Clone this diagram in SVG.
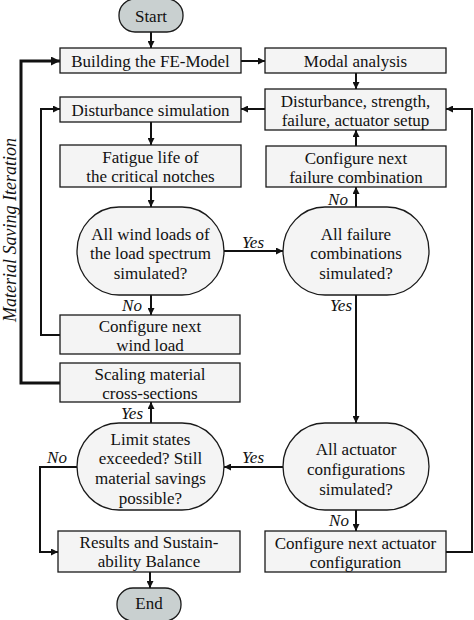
<svg xmlns="http://www.w3.org/2000/svg" width="474" height="620" viewBox="0 0 474 620">
<style>
.box{fill:#f4f4f4;stroke:#1a1a1a;stroke-width:1.3}
.dec{fill:#f4f4f4;stroke:#1a1a1a;stroke-width:1.3}
.term{fill:#c9d0d0;stroke:#1a1a1a;stroke-width:1.3}
.t{font-family:"Liberation Serif","Times New Roman",serif;font-size:17px;fill:#111;text-anchor:middle}
.lbl{font-family:"Liberation Serif","Times New Roman",serif;font-size:17px;font-style:italic;fill:#111;text-anchor:middle}
.c{fill:none;stroke:#111;stroke-width:2}
.thick{fill:none;stroke:#111;stroke-width:3}
</style>
<defs>
<marker id="ah" viewBox="0 0 10 10" refX="10" refY="5" markerWidth="9" markerHeight="7" markerUnits="userSpaceOnUse" orient="auto">
<path d="M0,0 L10,5 L0,10 z" fill="#111"/>
</marker>
<marker id="ahb" viewBox="0 0 10 10" refX="10" refY="5" markerWidth="12" markerHeight="9" markerUnits="userSpaceOnUse" orient="auto">
<path d="M0,0 L10,5 L0,10 z" fill="#111"/>
</marker>
</defs>

<g id="connectors">
<line class="c" x1="151" y1="32" x2="151" y2="48" marker-end="url(#ah)"/>
<line class="c" x1="241" y1="61" x2="265" y2="61" marker-end="url(#ah)"/>
<line class="c" x1="356" y1="73" x2="356" y2="89" marker-end="url(#ah)"/>
<line class="c" x1="265" y1="109" x2="241" y2="109" marker-end="url(#ah)"/>
<line class="c" x1="151" y1="122" x2="151" y2="145" marker-end="url(#ah)"/>
<line class="c" x1="151" y1="187" x2="151" y2="207" marker-end="url(#ah)"/>
<line class="c" x1="224" y1="251" x2="283" y2="251" marker-end="url(#ah)"/>
<line class="c" x1="356" y1="207" x2="356" y2="187" marker-end="url(#ah)"/>
<line class="c" x1="356" y1="146" x2="356" y2="130" marker-end="url(#ah)"/>
<line class="c" x1="151" y1="295" x2="151" y2="315" marker-end="url(#ah)"/>
<path class="c" d="M60,335 H41 V109 H60" marker-end="url(#ah)"/>
<line class="c" x1="356" y1="295" x2="356" y2="423" marker-end="url(#ah)"/>
<line class="c" x1="283" y1="467" x2="224" y2="467" marker-end="url(#ah)"/>
<line class="c" x1="151" y1="423" x2="151" y2="402" marker-end="url(#ah)"/>
<path class="thick" d="M60,383 H21 V61 H60" marker-end="url(#ahb)"/>
<path class="c" d="M77,467 H40 V552 H58" marker-end="url(#ah)"/>
<line class="c" x1="356" y1="510" x2="356" y2="531" marker-end="url(#ah)"/>
<path class="c" d="M446,552 H472 V109 H446" marker-end="url(#ah)"/>
<line class="c" x1="150" y1="572" x2="150" y2="588" marker-end="url(#ah)"/>
<text class="lbl" x="253" y="248">Yes</text>
<text class="lbl" x="338" y="205">No</text>
<text class="lbl" x="341" y="311">Yes</text>
<text class="lbl" x="132" y="311">No</text>
<text class="lbl" x="253" y="463">Yes</text>
<text class="lbl" x="132" y="419">Yes</text>
<text class="lbl" x="57" y="463">No</text>
<text class="lbl" x="339" y="526">No</text>
<text class="lbl" x="0" y="0" transform="translate(15.5,230) rotate(-90)" style="font-size:18px">Material Saving Iteration</text>
</g>

<g id="start"><rect class="term" x="119" y="-1" width="64" height="33" rx="16"/><text class="t" x="151" y="22">Start</text></g>
<g id="building"><rect class="box" x="60" y="48" width="181" height="25"/><text class="t" x="150.5" y="66.5">Building the FE-Model</text></g>
<g id="modal"><rect class="box" x="265" y="48" width="181" height="25"/><text class="t" x="355.5" y="66.5">Modal analysis</text></g>
<g id="setup"><rect class="box" x="265" y="89" width="181" height="41"/><text class="t" x="355.5" y="106.5">Disturbance, strength,</text><text class="t" x="355.5" y="125.5">failure, actuator setup</text></g>
<g id="dissim"><rect class="box" x="60" y="97" width="181" height="25"/><text class="t" x="150.5" y="115.5">Disturbance simulation</text></g>
<g id="fatigue"><rect class="box" x="60" y="145" width="181" height="42"/><text class="t" x="150.5" y="162.5">Fatigue life of</text><text class="t" x="150.5" y="181.5">the critical notches</text></g>
<g id="cfgfail"><rect class="box" x="266" y="146" width="180" height="41"/><text class="t" x="356" y="163.5">Configure next</text><text class="t" x="356" y="182.5">failure combination</text></g>
<g id="d1"><rect class="dec" x="77" y="207" width="147" height="88" rx="42" ry="44"/><text class="t" x="150.5" y="239.5">All wind loads of</text><text class="t" x="150.5" y="259">the load spectrum</text><text class="t" x="150.5" y="278.5">simulated?</text></g>
<g id="d2"><rect class="dec" x="283" y="207" width="146" height="88" rx="42" ry="44"/><text class="t" x="356" y="239.5">All failure</text><text class="t" x="356" y="259">combinations</text><text class="t" x="356" y="278.5">simulated?</text></g>
<g id="cfgwind"><rect class="box" x="60" y="315" width="180" height="39"/><text class="t" x="150" y="331.5">Configure next</text><text class="t" x="150" y="350.5">wind load</text></g>
<g id="scaling"><rect class="box" x="60" y="363" width="180" height="39"/><text class="t" x="150" y="379.5">Scaling material</text><text class="t" x="150" y="398.5">cross-sections</text></g>
<g id="d4"><rect class="dec" x="77" y="423" width="147" height="87" rx="42" ry="43.5"/><text class="t" x="150.5" y="444.5">Limit states</text><text class="t" x="150.5" y="464">exceeded? Still</text><text class="t" x="150.5" y="484">material savings</text><text class="t" x="150.5" y="504">possible?</text></g>
<g id="d3"><rect class="dec" x="283" y="423" width="146" height="87" rx="42" ry="43.5"/><text class="t" x="356" y="455">All actuator</text><text class="t" x="356" y="475">configurations</text><text class="t" x="356" y="495">simulated?</text></g>
<g id="results"><rect class="box" x="58" y="531" width="182" height="41"/><text class="t" x="149" y="547.5">Results and Sustain-</text><text class="t" x="149" y="567">ability Balance</text></g>
<g id="cfgact"><rect class="box" x="265" y="531" width="181" height="41"/><text class="t" x="355.5" y="548.5">Configure next actuator</text><text class="t" x="355.5" y="568">configuration</text></g>
<g id="end"><rect class="term" x="117" y="588" width="64" height="33" rx="16"/><text class="t" x="149" y="609">End</text></g>
</svg>
